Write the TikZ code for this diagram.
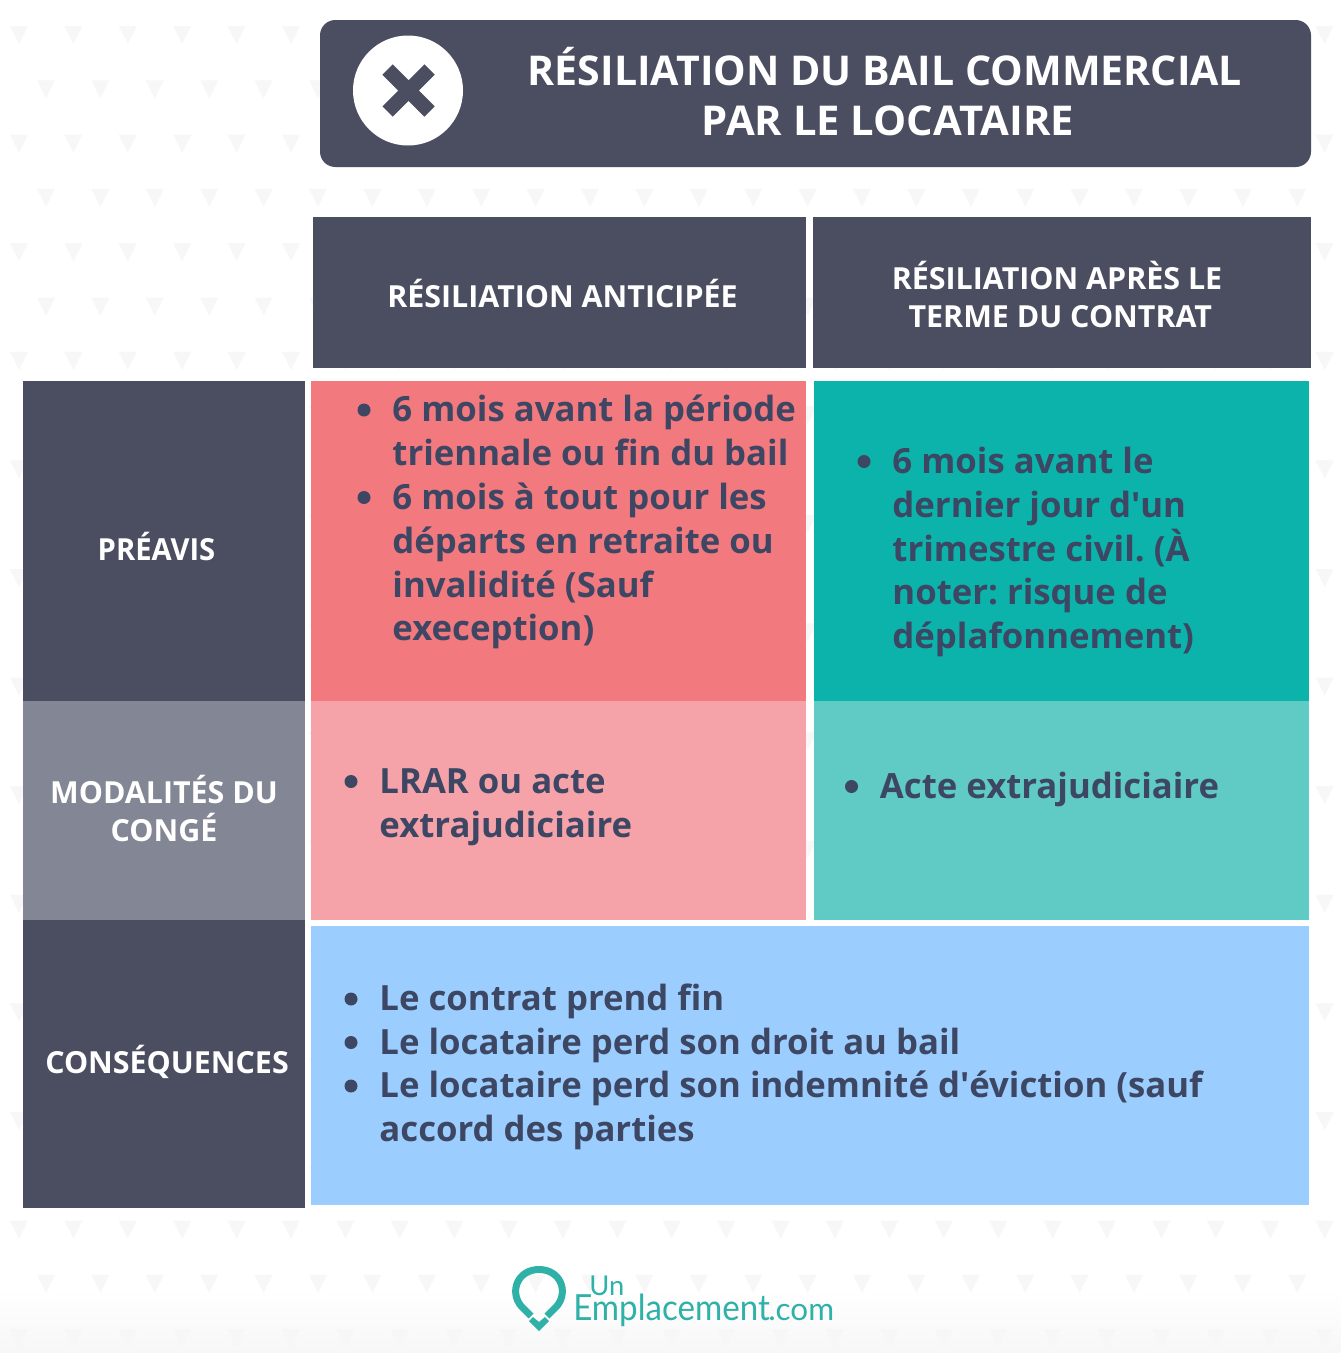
\documentclass[tikz,border=0pt]{standalone}
\usepackage{fontspec}
\usepackage{graphicx}
\setmainfont{Open Sans}
\newfontfamily\rawfont{Open Sans}
\newfontfamily\logofont{Lato}
\newcommand{\sq}{{\rawfont\bfseries\char39}}
\usetikzlibrary{calc}
\definecolor{darkbar}{HTML}{4A4E60}
\definecolor{greybar}{HTML}{828695}
\definecolor{redA}{HTML}{F2797E}
\definecolor{redB}{HTML}{F5A3A9}
\definecolor{tealA}{HTML}{0BB3AB}
\definecolor{tealB}{HTML}{5FCBC4}
\definecolor{skyC}{HTML}{9BCEFF}
\definecolor{inkC}{HTML}{3D4663}
\definecolor{triC}{HTML}{F7F7F8}
\definecolor{logoC}{HTML}{2FB1A7}
\newcommand{\pxfont}[2]{\fontsize{#1}{#2}\selectfont}
\tikzset{
  x=0.75pt,y=-0.75pt,
  hdr/.style={text=white,font=\bfseries\pxfont{22.8}{28.5},align=center,inner sep=0pt},
  body/.style={text=inkC,font=\frenchspacing\bfseries\pxfont{26.05}{32.85},align=left,anchor=north west,inner sep=0pt},
  bul/.style={circle,fill=inkC,minimum size=13*0.75pt,inner sep=0pt},
  tri/.style={fill=triC,draw=none},
  logotext/.style={text=logoC,inner sep=0pt,anchor=base west},
}
\newcommand{\rectnode}[6]{% name, colour, x0,y0,x1,y1
  \path[fill=#2] (#3,#4) rectangle (#5,#6);
  \coordinate (#1) at ({(#3+#5)/2},{(#4+#6)/2});
}
% name, bullet x, bullet y, text
\newcommand{\bitem}[4]{%
  \node[bul] (#1b) at (#2,#3) {};
  \node[body] (#1t) at (#2+28.2,#3-20.3) {\rule{0pt}{24pt}#4};
}
\begin{document}
\begin{tikzpicture}
\useasboundingbox (0,0) rectangle (1341,1353);
\fill[white] (0,0) rectangle (1341,1353);
\fill[bottom color=triC,top color=white,draw=none] (0,1290) rectangle (1341,1353);
\foreach \r in {0,...,24}{
  \pgfmathsetmacro{\yy}{35+54.3*\r}
  \pgfmathsetmacro{\xs}{mod(\r,2)==0 ? 19 : 46}
  \foreach \c in {0,...,24}{
    \pgfmathsetmacro{\xx}{\xs+54.4*\c}
    \fill[tri] (\xx-9,\yy-9) -- (\xx+9,\yy-9) -- (\xx,\yy+9) -- cycle;
  }
}
% title band
\fill[darkbar,rounded corners=11.5pt] (320,20) rectangle (1311,167);
\node[circle,fill=white,minimum size=110*0.75pt,inner sep=0pt] (xc) at (408,90.5) {};
\draw[darkbar,line width=14.5*0.75pt] (387.5,69.5) -- (429.5,111.5) (429.5,69.5) -- (387.5,111.5);
\node[text=white,font=\bfseries\pxfont{30.8}{37.5},align=center,inner sep=0pt] (title) at (885,92) {RÉSILIATION DU BAIL COMMERCIAL\\\hspace*{4.5pt}\scalebox{1.016}[1]{PAR LE LOCATAIRE}};
% column headers
\rectnode{h1}{darkbar}{312.5}{217}{806}{367.5}
\rectnode{h2}{darkbar}{812.5}{217}{1311}{367.5}
\node[hdr] (h1t) at (562.5,293.5) {RÉSILIATION ANTICIPÉE};
\node[hdr] (h2t) at (1057,294) {RÉSILIATION APRÈS LE\\\hspace*{5pt}TERME DU CONTRAT};
% row headers
\rectnode{r1}{darkbar}{23}{381}{305}{701}
\rectnode{r2}{greybar}{23}{701}{305}{920}
\rectnode{r3}{darkbar}{23}{920}{305}{1208}
\node[hdr] (r1t) at (156.5,546.5) {\scalebox{0.96}[1]{PRÉAVIS}};
\node[hdr] (r2t) at (164,808.5) {MODALITÉS DU\\CONGÉ};
\node[hdr] (r3t) at (167,1061.5) {CONSÉQUENCES};
% cells
\rectnode{c11}{redA}{311}{381}{806}{701}
\rectnode{c12}{tealA}{814}{381}{1309}{701}
\rectnode{c21}{redB}{311}{701}{806}{920}
\rectnode{c22}{tealB}{814}{701}{1309}{920}
\rectnode{c3}{skyC}{311}{926}{1309}{1205}
% cell text
\bitem{a}{364}{410}{6 mois avant la période\\triennale ou fin du bail}
\bitem{b}{364}{497.5}{6 mois à tout pour les\\départs en retraite ou\\invalidité (Sauf\\exeception)}
\bitem{c}{864}{461.5}{6 mois avant le\\dernier jour d\sq un\\trimestre civil. (À\\noter: risque de\\déplafonnement)}
\bitem{d}{351}{781.5}{LRAR ou acte\\extrajudiciaire}
\bitem{e}{851.5}{786.5}{Acte extrajudiciaire}
\bitem{f}{351}{999}{Le contrat prend fin}
\bitem{g}{351}{1042.5}{Le locataire perd son droit au bail}
\bitem{h}{351}{1086}{Le locataire perd son indemnité d\sq éviction (sauf\\accord des parties}
% logo
\draw[logoC,line width=7*0.75pt] (531,1316) -- (521,1306) .. controls (509,1291) and (518,1269.5) .. (539,1269.5) .. controls (560,1269.5) and (569,1291) .. (557,1306) -- (547,1316);
\fill[logoC] (529,1321) -- (533,1317) -- (539,1322) -- (545,1317) -- (549,1321) -- (539,1331) -- cycle;
\node[logotext,font=\logofont\pxfont{20.5}{20.5}] (lun) at (589,1295) {Un};
\node[logotext,font=\logofont\pxfont{27}{27}] (lem) at (573,1320) {\scalebox{0.92}[1]{Emplacement}};
\node[logotext,font=\logofont\pxfont{23.6}{23.6}] (lcom) at (768,1320) {.com};
\end{tikzpicture}
\end{document}
